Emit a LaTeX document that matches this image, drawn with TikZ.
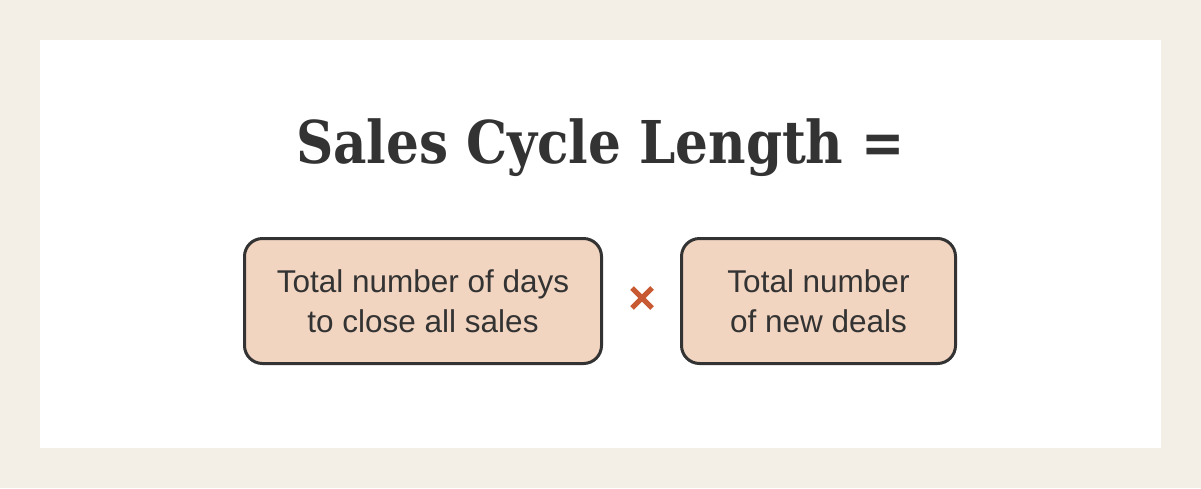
\documentclass[tikz,border=0pt]{standalone}
\usepackage{fontspec}
\setmainfont{Liberation Sans}
\newfontfamily\titlefont{DejaVu Serif}
\usepackage{graphicx}
\usepackage{tikz}
\usepackage{xcolor}
\usetikzlibrary{positioning,calc}

\definecolor{frame}{HTML}{F3EEE6}
\definecolor{ink}{HTML}{333333}
\definecolor{peach}{HTML}{F2D5C0}
\definecolor{rust}{HTML}{C85A33}

\tikzset{
  termbox/.style={draw=ink, fill=peach, line width=3pt, rounded corners=18pt,
    align=center, text=ink, font=\fontsize{31.5}{40}\selectfont, inner sep=0pt},
  timesmark/.style={rust, line width=5pt}
}

\begin{document}
\begin{tikzpicture}[x=1pt,y=-1pt]
    \useasboundingbox (0,0) rectangle (1201,488);
    % Frame
    \fill[frame] (0,0) rectangle (1201,488);
    \fill[white] (40,40) rectangle (1161,448);

    % Title
    \node[anchor=base, text=ink, inner sep=0pt] (title) at (600.5,163)
      {\scalebox{0.875}[1]{\titlefont\bfseries\fontsize{59}{62}\selectfont Sales Cycle Length =}};

    % Terms
    \node[termbox, minimum width=357pt, minimum height=125pt] (days) at (423,301)
      {Total number of days\\to close all sales};
    \node[termbox, minimum width=274pt, minimum height=125pt] (deals) at (818.5,301)
      {Total number\\of new deals};

    % Operator
    \coordinate (times) at (642,298);
    \draw[timesmark] ($(times)+(-10,-10)$) -- ($(times)+(10,10)$);
    \draw[timesmark] ($(times)+(-10,10)$) -- ($(times)+(10,-10)$);
\end{tikzpicture}
\end{document}
